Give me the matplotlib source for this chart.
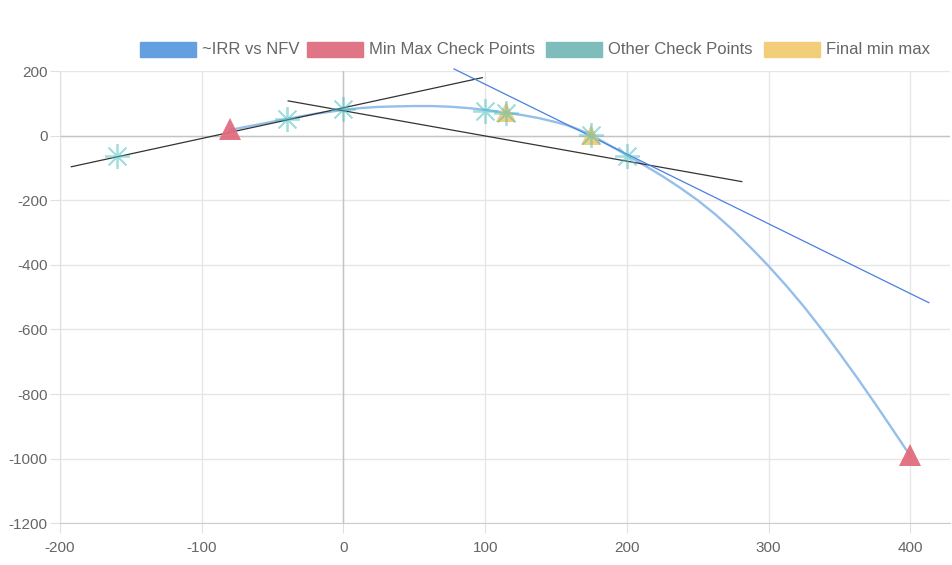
import matplotlib.pyplot as plt
from matplotlib.patches import Rectangle

plt.rcParams['font.family'] = ['Liberation Sans', 'DejaVu Sans']
plt.rcParams['axes.unicode_minus'] = False

# ~IRR vs NFV curve
curve_x = [-80, -60, -40, -20, 0, 12.5, 25, 37.5, 50, 62.5, 75, 87.5, 100,
           107.5, 115, 125, 137.5, 150, 157.5, 165, 170, 175, 181, 187, 193.5,
           200, 212.5, 225, 237.5, 250, 262.5, 275, 287.5, 300, 312.5, 325,
           337.5, 350, 362.5, 375, 387.5, 400]
curve_y = [18, 35, 52, 68, 80, 86, 89.5, 91, 92, 92, 90, 86, 80,
           76, 71, 65, 55, 42, 33, 21, 12, 2, -13, -28, -44,
           -60, -92, -125, -161, -200, -244, -293, -347, -404, -465, -530,
           -600, -674, -750, -829, -910, -992]

# check points
minmax_x = [-80, 400]
minmax_y = [20, -990]
other_x = [-160, -40, 0, 100, 200, 115, 175]
other_y = [-62, 52, 82, 78, -62, 72, 2]
final_x = [115, 175]
final_y = [74, 2]

# secant / tangent lines (end points)
sec1_x = [-192, 98]
sec1_y = [-96, 180]
sec2_x = [-39, 281]
sec2_y = [108, -142]
tan_x = [78, 413]
tan_y = [207, -517]

x_ticks = [-200, -100, 0, 100, 200, 300, 400]
y_ticks = [-1200, -1000, -800, -600, -400, -200, 0, 200]

legend_labels = ['~IRR vs NFV', 'Min Max Check Points', 'Other Check Points', 'Final min max']
legend_colors = ['#64a0e0', '#e07585', '#7fbdbd', '#f2cd7a']

fig = plt.figure(figsize=(9.52, 5.65), dpi=100)
ax = fig.add_axes([0.063, 0.074, 0.935, 0.800])

ax.set_xlim(-200, 428)
ax.set_ylim(-1200, 200)
ax.set_xticks(x_ticks)
ax.set_yticks(y_ticks)
ax.grid(True, color='#e6e6e6', linewidth=1)
ax.set_axisbelow(True)
ax.axhline(0, color='#c4c4c4', linewidth=1, zorder=1)
ax.axvline(0, color='#c4c4c4', linewidth=1, zorder=1)
for s in ['top', 'right']:
    ax.spines[s].set_visible(False)
ax.spines['left'].set_color('#e0e0e0')
ax.spines['bottom'].set_color('#cccccc')
ax.tick_params(axis='both', colors='#e0e0e0', labelcolor='#666666', labelsize=11, length=7)
ax.tick_params(axis='x', pad=6)
ax.tick_params(axis='y', pad=2)

ax.plot(curve_x, curve_y, color='#95bfea', linewidth=1.7, zorder=3)
ax.plot(sec1_x, sec1_y, color='#333333', linewidth=0.9, zorder=4)
ax.plot(sec2_x, sec2_y, color='#333333', linewidth=0.9, zorder=4)
ax.plot(tan_x, tan_y, color='#4a7fe0', linewidth=0.9, zorder=4, clip_on=False)

ax.plot(minmax_x, minmax_y, linestyle='none', marker='^', markersize=16,
        color='#e06c7e', alpha=0.95, markeredgewidth=0, zorder=5)
ax.plot(final_x, final_y, linestyle='none', marker='^', markersize=15,
        color='#f5c96a', alpha=0.9, markeredgewidth=0, zorder=5)
ax.plot(other_x, other_y, linestyle='none', marker=(8, 2, 0), markersize=18,
        markeredgecolor='#4bc0c0', alpha=0.5, markeredgewidth=1.3, zorder=6)

# legend drawn along the top
box_x = [140, 307, 546, 764]
for bx, lab, col in zip(box_x, legend_labels, legend_colors):
    fig.add_artist(Rectangle((bx / 952, 1 - 57 / 565), 56 / 952, 15 / 565,
                             facecolor=col, edgecolor=col, transform=fig.transFigure))
    fig.text((bx + 62) / 952, 1 - 49.5 / 565, lab, color='#666666', fontsize=12,
             va='center', ha='left')

fig.savefig('out.png', dpi=100)
